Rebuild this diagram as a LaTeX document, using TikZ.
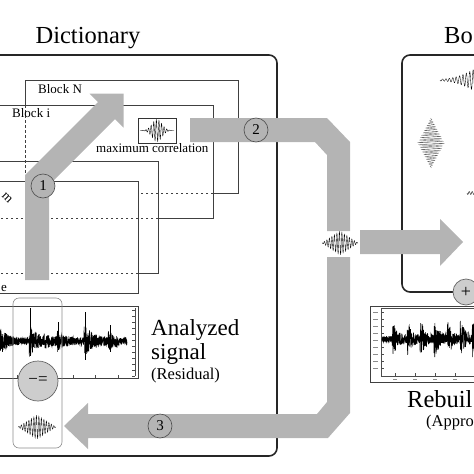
\documentclass[tikz,border=0pt]{standalone}
\usepackage{fontspec}
\setmainfont{Liberation Serif}
\definecolor{arrowgray}{RGB}{180,180,180}
\definecolor{opgray}{RGB}{205,205,205}
\begin{document}
\begin{tikzpicture}[x=1pt,y=-1pt,
  boxline/.style={draw=black!85, line width=1.6pt},
  blockline/.style={draw=black!75, line width=0.8pt},
  hidden/.style={blockline, dash pattern=on 2.5pt off 2.5pt},
  numcirc/.style={circle, draw=black!70, line width=0.6pt, fill=arrowgray, minimum size=24pt, inner sep=0pt, font=\fontsize{15}{15}\selectfont},
  opcirc/.style={circle, draw=black!60, line width=0.7pt, fill=opgray, inner sep=0pt},
  bigtext/.style={font=\fontsize{24.5}{24}\selectfont, inner sep=0pt},
  sigtext/.style={font=\fontsize{23}{23}\selectfont, inner sep=0pt},
  midtext/.style={font=\fontsize{16.5}{16.5}\selectfont, inner sep=0pt},
  smalltext/.style={font=\fontsize{13}{13}\selectfont, inner sep=0pt},
  wave/.style={line width=0.35pt, draw=black},
  noisy/.style={line width=0.6pt, draw=black},
  declare function={
    ampa(\t)=3.5+10*exp(-abs(\t-1)/6)+(\t>29)*13*exp(-max(0,\t-29)/8)+(\t>57)*7*exp(-max(0,\t-57)/5)+(\t>84)*13*exp(-max(0,\t-84)/9)+(\t>108)*7*exp(-max(0,\t-108)/6)+(\t>44)*3*exp(-max(0,\t-44)/12);
    ampr(\t)=3+(\t>392)*17*exp(-max(0,\t-392)/5)+(\t>407)*15*exp(-max(0,\t-407)/5)+(\t>420)*18*exp(-max(0,\t-420)/5)+(\t>434)*17*exp(-max(0,\t-434)/5)+(\t>447)*16*exp(-max(0,\t-447)/5)+(\t>460)*16*exp(-max(0,\t-460)/5)+(\t>472)*16*exp(-max(0,\t-472)/5);
  }]
\useasboundingbox (0,0) rectangle (474,474);
\clip (0,0) rectangle (474,474);
\pgfmathsetseed{4242}

% titles
\node[bigtext, anchor=base] (dict) at (88,43) {Dictionary};
\node[bigtext, anchor=base west] (book) at (444,43) {Bo};

% main boxes
\draw[boxline, rounded corners=8pt] (-10,55) -- (277,55) -- (277,456) -- (-10,456);
\draw[boxline, rounded corners=8pt] (490,55) -- (402,55) -- (402,292) -- (455,292);

% blocks
\draw[blockline] (25,105) -- (25,80) -- (238,80) -- (238,193) -- (213,193);
\draw[hidden] (213,193) -- (140,193);
\draw[hidden] (25,105) -- (25,181);
\draw[blockline] (-5,105) -- (213,105) -- (213,218) -- (158,218);
\draw[hidden] (158,218) -- (-5,218);
\draw[blockline] (-5,161) -- (158,161) -- (158,273) -- (138,273);
\draw[hidden] (138,273) -- (-5,273);
\draw[blockline] (-5,181) -- (138,181) -- (138,293) -- (-5,293);

\node[smalltext, anchor=base west] (lbN) at (38,93) {Block N};
\node[smalltext, anchor=base west] (lbi) at (12,117) {Block i};
\node[smalltext, anchor=base west] (lbmax) at (96,152) {maximum correlation};
\node[smalltext, rotate=-45] (lbm) at (7,198) {m};
\node[smalltext, anchor=base east] (lbe) at (7,291) {e};

% max correlation atom
\node[draw=black!80, line width=0.6pt, minimum width=38pt, minimum height=25pt, inner sep=0pt] (maxbox) at (157,130.5) {};
\draw[wave] plot[domain=-17:17, samples=240] ({157+\x}, {130.5 + 11*exp(-(\x/7)^2)*sin(360*\x/2.6)});

% gray arrows
\fill[arrowgray] (25,280) -- (25,175) -- (98,102) -- (89.5,93.5) -- (123.5,93.5) -- (123.5,127.5) -- (115,119) -- (49,185) -- (49,280) -- cycle;
\fill[arrowgray] (190,118) -- (327,118) -- (350,142) -- (350,231) -- (327,231) -- (327,155) -- (315,142) -- (190,142) -- cycle;
\fill[arrowgray] (327,257) -- (350,257) -- (350,413) -- (328,438) -- (88,438) -- (88,449) -- (64,426) -- (88,403) -- (88,414) -- (317,414) -- (327,402) -- cycle;
\fill[arrowgray] (360,230) -- (440,230) -- (440,219) -- (463,242) -- (440,266) -- (440,254) -- (360,254) -- cycle;

% selected atom between arrows
\draw[wave] plot[domain=-18:18, samples=240] ({340+\x}, {243 + 12*(1-abs(\x)/18)*sin(360*\x/2.5)});

\node[numcirc] (c1) at (43,186) {1};
\node[numcirc] (c2) at (256,130) {2};
\node[numcirc] (c3) at (160,426) {3};

% analyzed signal plot
\draw[blockline, line width=0.6pt] (-5,306) rectangle (138,378);
\draw[black!70, line width=0.4pt] (135,308) -- (135,376);
\foreach \yy in {310,316,...,376} \draw[black!70, line width=0.4pt] (132,\yy) -- (135,\yy);
\foreach \xx in {17,50,73,95,118} \draw[black!70, line width=0.4pt] (\xx,378) -- (\xx,375);
\draw[noisy] plot[domain=-2:127, samples=900] (\x, {341 + ampa(\x)*rand});
\draw[black, line width=0.9pt] (30,308) -- (30,356);
\draw[black, line width=0.9pt] (58,322) -- (58,350);
\draw[black, line width=0.9pt] (85,312) -- (85,360);
\draw[black, line width=0.9pt] (110,325) -- (110,352);

\draw[black!45, line width=0.6pt, rounded corners=6pt] (13,298) rectangle (62,448);
\node[opcirc, minimum size=40pt, font=\fontsize{17}{17}\selectfont] (minus) at (38,381) {−=};
\draw[wave] plot[domain=-19:19, samples=240] ({37+\x}, {427 + 12*(1-abs(\x)/19)*sin(360*\x/2.5)});

\node[sigtext, anchor=base west] (an1) at (151,335) {Analyzed};
\node[sigtext, anchor=base west] (an2) at (151,359) {signal};
\node[midtext, anchor=base west] (an3) at (151,379) {(Residual)};

% rebuilt signal plot
\draw[blockline, line width=0.6pt] (370,306) rectangle (490,382);
\draw[black!70, line width=0.4pt] (381,376) -- (381,308) -- (490,308);
\draw[black!70, line width=0.4pt] (381,376) -- (490,376);
\foreach \yy in {312,319,...,372} {
  \draw[black!70, line width=0.4pt] (381,\yy) -- (384,\yy);
  \draw[black!45, line width=0.7pt] (373,\yy) -- (378,\yy);
}
\foreach \xx in {395,415,435,455} {
  \draw[black!70, line width=0.4pt] (\xx,376) -- (\xx,373);
  \draw[black!45, line width=0.7pt] (\xx-2,379) -- (\xx+2,379);
}
\draw[noisy] plot[domain=382:476, samples=700] (\x, {339 + ampr(\x)*rand});

\node[bigtext, anchor=base west] (rb1) at (407,407) {Rebuil};
\node[midtext, anchor=base west] (rb2) at (426,426) {(Appro};

\node[opcirc, minimum size=26pt, font=\fontsize{18}{18}\selectfont] (plus) at (466,292) {+};

% book atoms
\draw[wave] plot[domain=440:476, samples=300] (\x, {80 + (1 + 11*((\x-440)/36)^2)*sin(360*(\x-440)/3.4)});
\draw[wave, draw=black!60] plot[domain=-25:25, samples=300] ({431 + 13*(1-abs(\x)/25)*sin(360*\x/2.4)}, {143+\x});
\draw[wave] plot[domain=467:476, samples=60] (\x, {193 + 1.5*sin(360*(\x-467)/3)});
\end{tikzpicture}
\end{document}
